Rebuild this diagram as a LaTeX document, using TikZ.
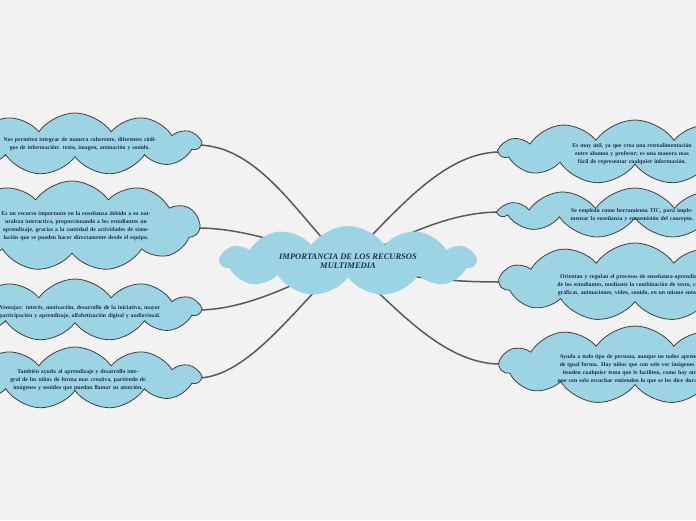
\documentclass[tikz,border=0pt]{standalone}
\usepackage{fontspec}
\setmainfont{Liberation Serif}
\usetikzlibrary{shapes.symbols}
\definecolor{bg}{HTML}{F2F2F2}
\definecolor{cl}{HTML}{9DD4E3}
\definecolor{tx}{HTML}{1F2F4F}
\begin{document}
\begin{tikzpicture}[x=1pt,y=-1pt,
  cloudbox/.style={cloud,cloud puffs=11,cloud puff arc=110,draw=black!75,fill=cl,line width=0.8pt,inner sep=0pt},
  txt/.style={text=tx,font=\fontsize{5.8}{8.2}\selectfont\bfseries,align=center},
  link/.style={draw=black!65,line width=1.5pt}]
\useasboundingbox (0,0) rectangle (696,520);
\clip (0,0) rectangle (696,520);
\fill[bg] (0,0) rectangle (696,520);
% connectors
\coordinate (m) at (345,262);
\coordinate (l1) at (197,145);
\coordinate (l2) at (197,228);
\coordinate (l3) at (197,310);
\coordinate (l4) at (197,378);
\coordinate (r1) at (500,152);
\coordinate (r2) at (500,212);
\coordinate (r3) at (500,282);
\coordinate (r4) at (500,364);
\draw[link] (m) .. controls (300,220) and (260,145) .. (l1);
\draw[link] (m) .. controls (300,250) and (250,228) .. (l2);
\draw[link] (m) .. controls (300,280) and (250,310) .. (l3);
\draw[link] (m) .. controls (300,300) and (250,378) .. (l4);
\draw[link] (m) .. controls (390,220) and (440,152) .. (r1);
\draw[link] (m) .. controls (390,245) and (440,212) .. (r2);
\draw[link] (m) .. controls (390,275) and (440,282) .. (r3);
\draw[link] (m) .. controls (390,300) and (440,364) .. (r4);
% clouds
\node[cloudbox,draw=none,minimum width=255,minimum height=70] (c) at (348,261) {};
\node[txt,font=\fontsize{8.5}{9}\selectfont\bfseries\itshape] at (c.center) {IMPORTANCIA DE LOS RECURSOS\\MULTIMEDIA};
\node[cloudbox,minimum width=250,minimum height=62] (a1) at (75,144) {};
\node[txt,text width=165] at (80,144) {Nos permiten integrar de manera coherente, diferentes códigos de información: texto, imagen, animación y sonido.};
\node[cloudbox,minimum width=255,minimum height=90] (a2) at (72,226) {};
\node[txt,text width=168] at (76,226) {Es un recurso importante en la enseñanza debido a su naturaleza interactiva, proporcionando a los estudiantes un aprendizaje, gracias a la cantidad de actividades de simulación que se pueden hacer directamente desde el equipo.};
\node[cloudbox,minimum width=250,minimum height=62] (a3) at (75,310) {};
\node[txt,text width=185] at (80,312) {Ventajas: interés, motivación, desarrollo de la iniciativa, mayor participación y aprendizaje, alfabetización digital y audiovisual.};
\node[cloudbox,minimum width=250,minimum height=62] (a4) at (75,378) {};
\node[txt,text width=175] at (78,380) {También ayuda al aprendizaje y desarrollo integral de los niños de forma mas creativa, partiendo de imágenes y sonidos que puedan llamar su atención.};
\node[cloudbox,minimum width=270,minimum height=64] (b1) at (635,152) {};
\node[txt,text width=175] at (632,154) {Es muy útil, ya que crea una retroalimentación entre alumno y profesor; es una manera mas fácil de representar cualquier información.};
\node[cloudbox,minimum width=270,minimum height=50] (b2) at (635,213) {};
\node[txt,text width=185] at (632,215) {Se emplean como herramienta TIC, para implementar la enseñanza y transmisión del concepto.};
\node[cloudbox,minimum width=270,minimum height=78] (b3) at (635,282) {};
\node[txt,text width=175] at (632,285) {Orientan y regulan el procesos de enseñanza-aprendizaje de los estudiantes, mediante la combinación de texto, color, gráficas, animaciones, video, sonido, en un mismo entorno.};
\node[cloudbox,minimum width=270,minimum height=78] (b4) at (635,365) {};
\node[txt,text width=178] at (632,369) {Ayuda a todo tipo de persona, aunque no todos aprenden de igual forma. Hay niños que con solo ver imágenes entienden cualquier tema que le faciliten, como hay otros que con solo escuchar entienden lo que se les dice durante.};
\end{tikzpicture}
\end{document}
